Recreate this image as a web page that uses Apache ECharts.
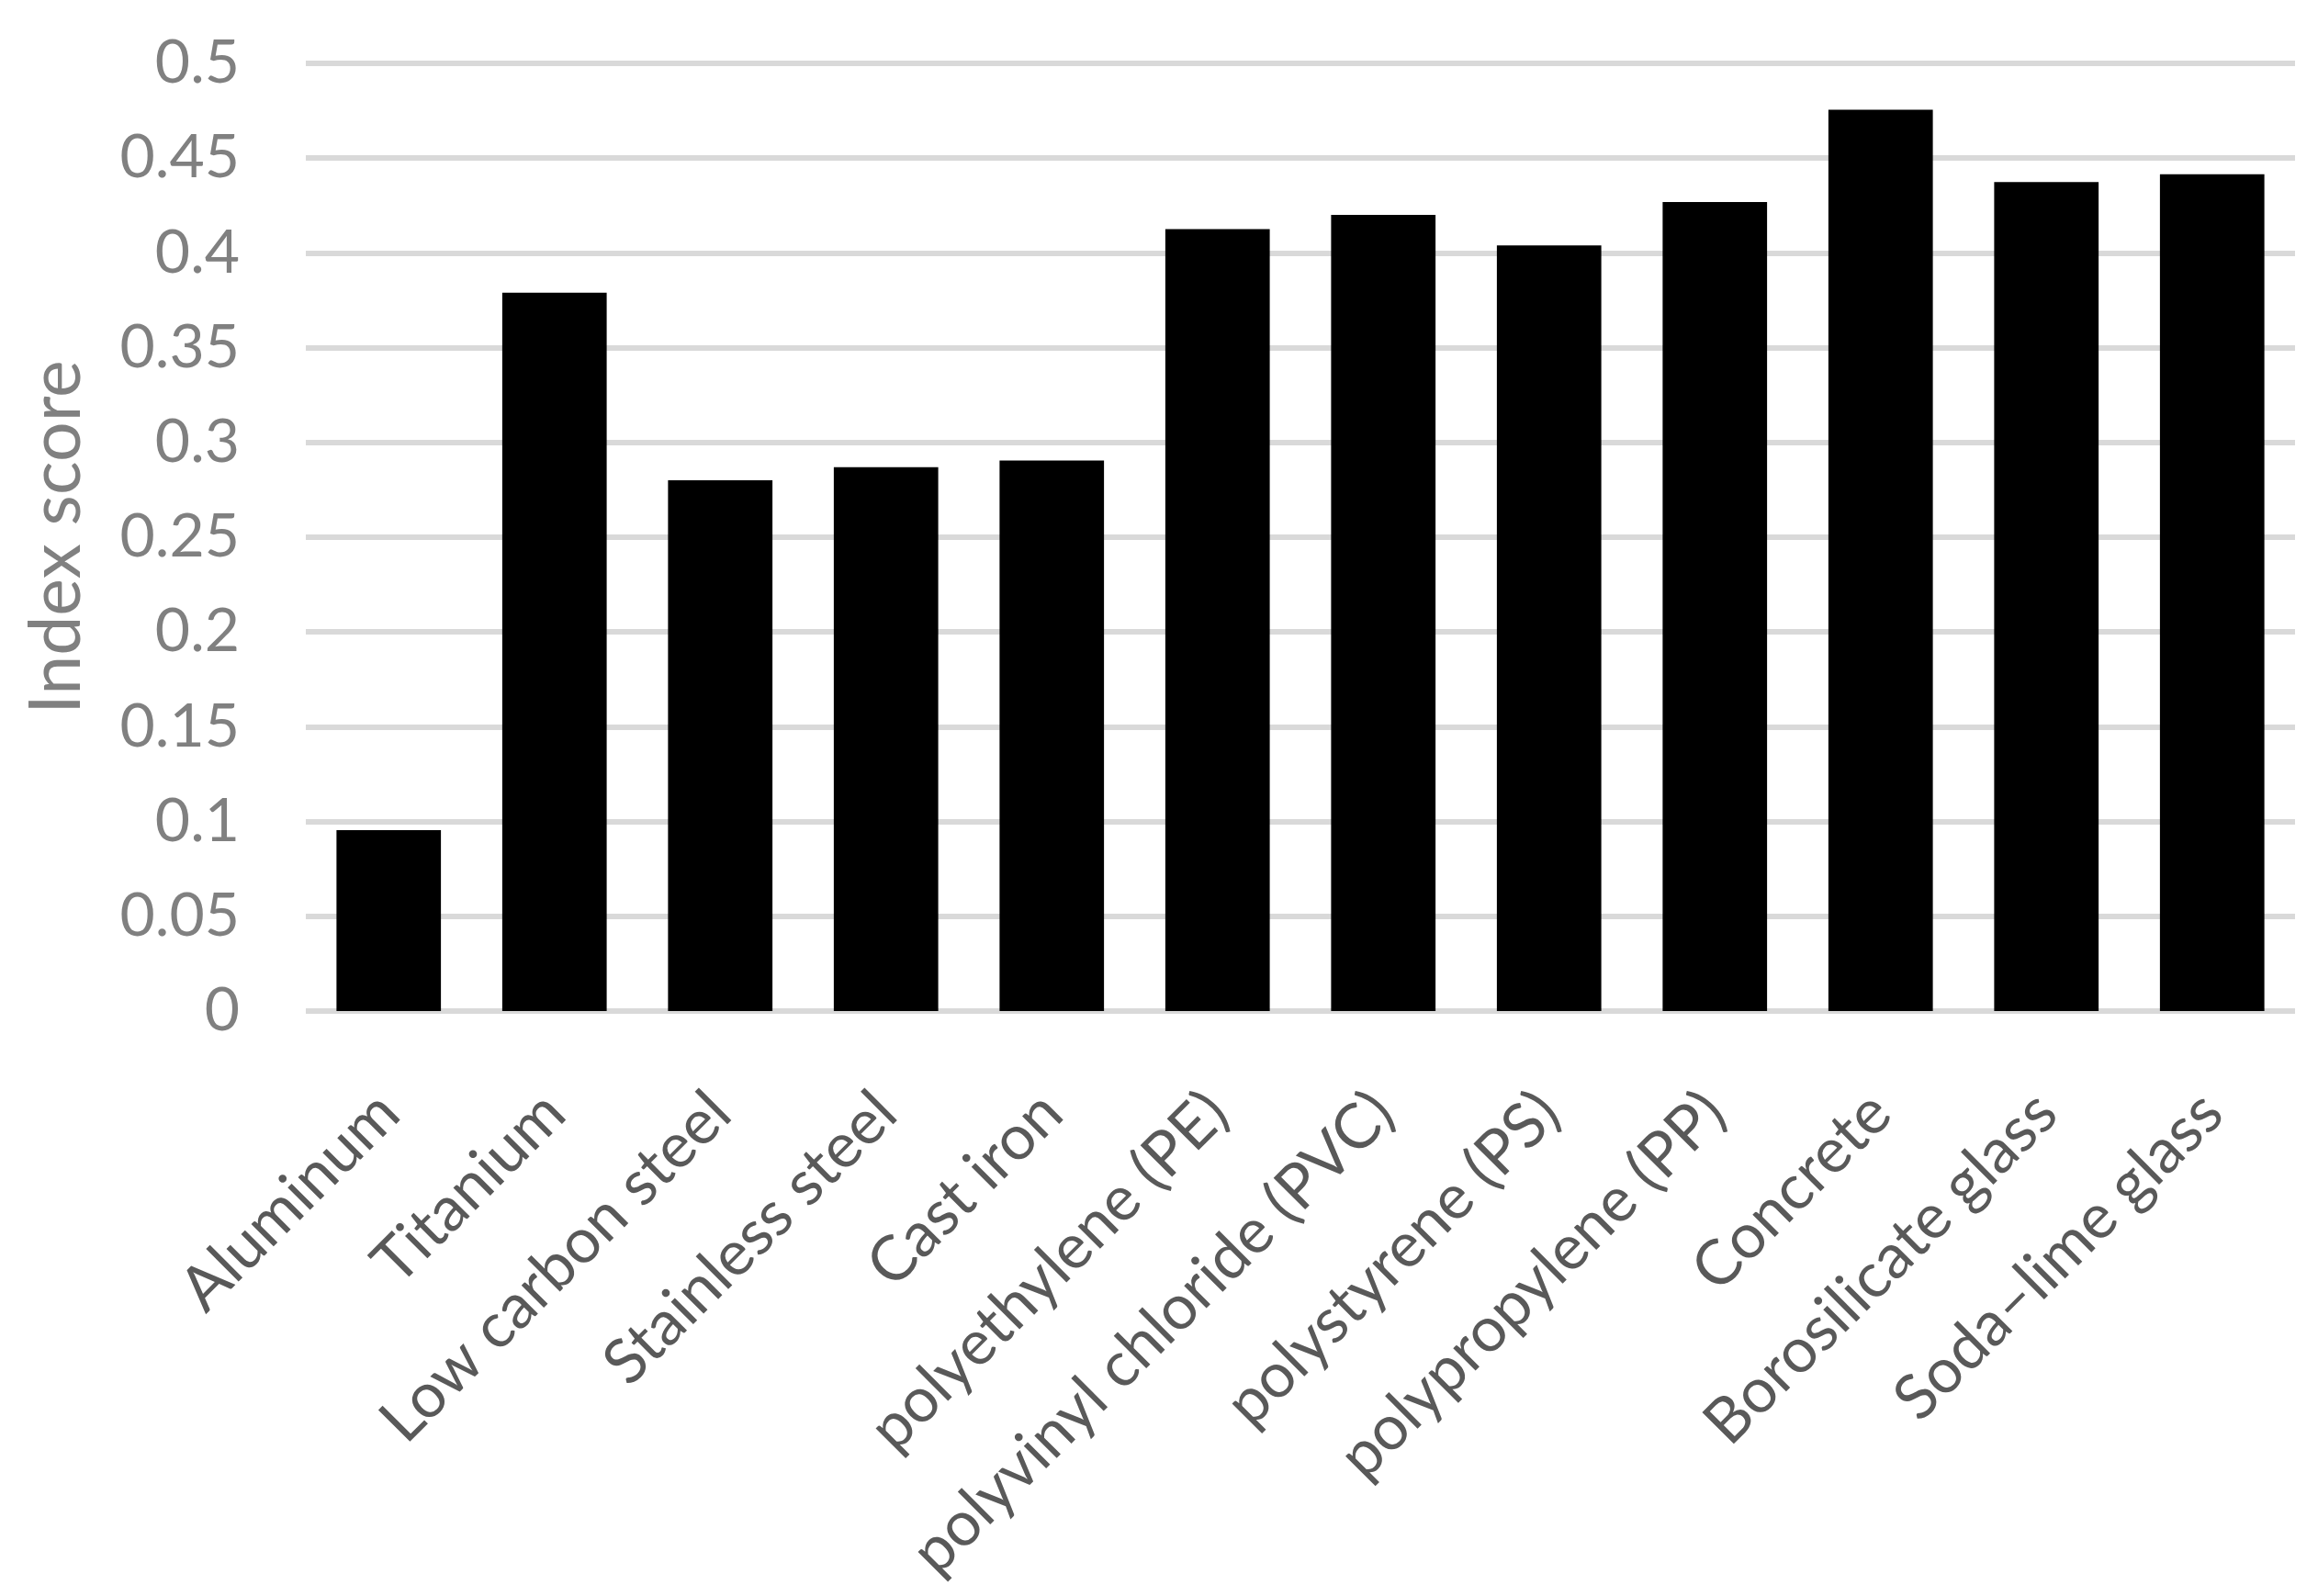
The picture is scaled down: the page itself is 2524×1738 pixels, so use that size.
<!DOCTYPE html>
<html style="height: 100%">
    <head>
        <title>Index score by material</title>
        <meta charset="utf-8">
    </head>
    <body style="height: 100%; margin: 0; background: #ffffff">
        <div id="container" style="height: 100%"></div>

        <script type="text/javascript" src="https://cdn.jsdelivr.net/npm/echarts@6.0.0/dist/echarts.min.js"></script>
        <script type="text/javascript">
            var materials = ['Aluminum', 'Titanium', 'Low carbon steel', 'Stainless steel', 'Cast iron',
                'polyethylene (PE)', 'polyvinyl chloride (PVC)', 'polystyrene (PS)', 'polypropylene (PP)',
                'Concrete', 'Borosilicate glass', 'Soda\u2013lime glass'];
            var indexScore = [0.0955, 0.379, 0.280, 0.287, 0.2905, 0.4125, 0.420, 0.404, 0.4268, 0.4755, 0.4374, 0.4415];
            var yTicks = [0, 0.05, 0.1, 0.15, 0.2, 0.25, 0.3, 0.35, 0.4, 0.45, 0.5];

            var dom = document.getElementById("container");
            var myChart = echarts.init(dom);
            var font = 'Lato';

            var option = {
                animation: false,
                grid: {
                    left: 333,
                    right: 25,
                    top: 69,
                    bottom: 637
                },
                xAxis: {
                    type: 'category',
                    data: materials,
                    axisLine: { show: false },
                    axisTick: { show: false },
                    axisLabel: {
                        rotate: 45,
                        interval: 0,
                        margin: 100,
                        color: '#595959',
                        fontFamily: font,
                        fontSize: 68
                    }
                },
                yAxis: {
                    type: 'value',
                    min: yTicks[0],
                    max: yTicks[yTicks.length - 1],
                    interval: 0.05,
                    name: 'Index score',
                    nameLocation: 'middle',
                    nameGap: 232,
                    nameTextStyle: {
                        color: '#808080',
                        fontFamily: font,
                        fontSize: 77
                    },
                    axisLine: { show: false },
                    axisTick: { show: false },
                    axisLabel: {
                        margin: 72,
                        color: '#808080',
                        fontFamily: font,
                        fontSize: 66,
                        formatter: function (v) {
                            return String(Math.round(v * 100) / 100);
                        }
                    },
                    splitLine: {
                        lineStyle: { color: '#d9d9d9', width: 6 }
                    }
                },
                series: [{
                    name: 'Index score',
                    type: 'bar',
                    data: indexScore,
                    barWidth: '63%',
                    itemStyle: { color: '#000000' }
                }]
            };

            myChart.setOption(option);
            window.onresize = function () {
                myChart.resize();
            };
        </script>
    </body>
</html>
